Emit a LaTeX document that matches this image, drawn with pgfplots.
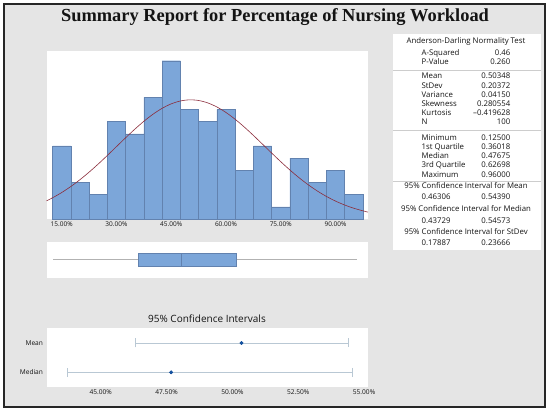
\documentclass[border=0pt]{standalone}
\usepackage{fontspec}
\setmainfont{Open Sans}
\newfontfamily\titlefont{Liberation Serif}
\usepackage{pgfplots}
\usepgfplotslibrary{statistics}
\pgfplotsset{compat=1.18}
\definecolor{framebg}{RGB}{229,229,229}
\definecolor{barfill}{RGB}{124,166,217}
\definecolor{baredge}{RGB}{98,130,175}
\definecolor{fitcurve}{RGB}{140,45,60}
\definecolor{ciline}{RGB}{185,200,212}
\definecolor{cipt}{RGB}{22,82,160}
\definecolor{sepline}{RGB}{205,205,205}
\definecolor{txt}{RGB}{20,20,20}

\newcommand{\tabfont}{\fontsize{7.8}{8.5}\selectfont}
\newcommand{\srow}[3]{%
  \node[anchor=base west,font=\tabfont,text=txt,inner sep=0pt] at (421.5,-#1-2.8) {#2};
  \node[anchor=base east,font=\tabfont,text=txt,inner sep=0pt] at (510.5,-#1-2.8) {#3};}
\newcommand{\crow}[2]{%
  \node[anchor=base,font=\tabfont,text=txt,inner sep=0pt] at (466,-#1-2.8) {#2};}

\begin{document}
\begin{tikzpicture}[x=1pt,y=1pt]
\fill[white] (0,0) rectangle (550,-413);
\fill[framebg] (4,-4) rectangle (545,-407);
\draw[black!85,line width=1.5pt] (4,-4) rectangle (545,-407);
\node[font=\titlefont\bfseries\fontsize{18.4}{21}\selectfont,text=txt] at (275,-17.5) {Summary Report for Percentage of Nursing Workload};

% ---------- histogram ----------
\begin{axis}[at={(46.5pt,-219pt)},anchor=south west,
  scale only axis,width=321.5pt,height=168pt,
  xmin=10.84,xmax=98.9,ymin=0,ymax=13.8,
  axis background/.style={fill=white},
  axis line style={draw=none},
  major tick length=0pt,
  ytick=\empty,
  xtick={15,30,45,60,75,90},
  xticklabels={15.00\%,30.00\%,45.00\%,60.00\%,75.00\%,90.00\%},
  xticklabel style={font=\fontsize{6.5}{7}\selectfont,text=txt,yshift=1pt},
  clip=false]
\addplot[ybar interval,fill=barfill,draw=baredge,line width=0.4pt] coordinates {
(12.5,6) (17.5,3) (22.5,2) (27.5,8) (32.5,7) (37.5,10) (42.5,13) (47.5,9) (52.5,8)
(57.5,9) (62.5,4) (67.5,6) (72.5,1) (77.5,5) (82.5,3) (87.5,4) (92.5,2) (97.5,2)};
\addplot[fitcurve,line width=0.6pt,smooth] coordinates {
(10.84,1.489) (12.5,1.743) (15,2.173) (17.5,2.669) (20,3.228) (22.5,3.847) (25,4.514)
(27.5,5.220) (30,5.946) (32.5,6.670) (35,7.371) (37.5,8.025) (40,8.605)
(42.5,9.090) (45,9.458) (47.5,9.695) (50,9.789) (52.5,9.736) (55,9.538)
(57.5,9.205) (60,8.751) (62.5,8.194) (65,7.559) (67.5,6.869) (70,6.148)
(72.5,5.421) (75,4.708) (77.5,4.028) (80,3.394) (82.5,2.818) (85,2.304)
(87.5,1.856) (90,1.473) (92.5,1.151) (95,0.886) (97.5,0.672) (98.9,0.565)};
\end{axis}

% ---------- boxplot ----------
\begin{axis}[at={(46.5pt,-277.7pt)},anchor=south west,
  scale only axis,width=321.5pt,height=36pt,
  xmin=10.84,xmax=98.9,ymin=-1.5,ymax=1.5,
  axis background/.style={fill=white},
  axis line style={draw=none},
  major tick length=0pt,
  xtick=\empty,ytick=\empty]
\addplot[boxplot prepared={lower whisker=12.5,lower quartile=36.018,median=47.675,
  upper quartile=62.698,upper whisker=96,draw position=0,box extend=1.06,whisker extend=0,
  every box/.style={fill=barfill,draw=baredge,line width=0.4pt},
  every whisker/.style={draw=black!30,line width=0.8pt},
  every median/.style={draw=baredge,line width=0.8pt}},
  mark=none] coordinates {};
\end{axis}

% ---------- confidence intervals ----------
\node[font=\fontsize{10}{11}\selectfont,text=txt] at (207,-319) {95\% Confidence Intervals};
\begin{axis}[at={(46.5pt,-387pt)},anchor=south west,
  scale only axis,width=321.5pt,height=58.7pt,
  xmin=42.94,xmax=55.15,ymin=0,ymax=3,
  axis background/.style={fill=white},
  axis line style={draw=none},
  major tick length=0pt,
  xtick={45,47.5,50,52.5,55},
  xticklabels={45.00\%,47.50\%,50.00\%,52.50\%,55.00\%},
  ytick={0.75,2.25},yticklabels={Median,Mean},
  tick label style={font=\fontsize{6.6}{7}\selectfont,text=txt},
  xticklabel style={yshift=1pt},
  clip=false]
\addplot[only marks,mark=*,mark size=1.6pt,color=cipt,
  error bars/.cd,x dir=both,x explicit,
  error bar style={ciline,line width=0.9pt},
  error mark options={rotate=90,ciline,mark size=4.5pt,line width=0.9pt}]
  coordinates {(50.348,2.25) += (4.042,0) -= (4.042,0)
               (47.675,0.75) += (6.898,0) -= (3.946,0)};
\addplot[only marks,mark=*,mark size=1.6pt,color=cipt] coordinates {(50.348,2.25) (47.675,0.75)};
\end{axis}

% ---------- statistics table ----------
\fill[white] (393.3,-34) rectangle (540.5,-250);
\draw[sepline,line width=0.6pt] (393.3,-70) -- (540.5,-70);
\draw[sepline,line width=0.6pt] (393.3,-130) -- (540.5,-130);
\draw[sepline,line width=0.6pt] (393.3,-181) -- (540.5,-181);
\crow{41}{Anderson-Darling Normality Test}
\srow{52.3}{A-Squared}{0.46}
\srow{61.3}{P-Value}{0.260}
\srow{76}{Mean}{0.50348}
\srow{85.2}{StDev}{0.20372}
\srow{94.4}{Variance}{0.04150}
\srow{103.6}{Skewness}{0.280554}
\srow{112.8}{Kurtosis}{\textendash0.419628}
\srow{122}{N}{100}
\srow{137.5}{Minimum}{0.12500}
\srow{146.7}{1st Quartile}{0.36018}
\srow{155.9}{Median}{0.47675}
\srow{165.1}{3rd Quartile}{0.62698}
\srow{174.3}{Maximum}{0.96000}
\crow{186}{95\% Confidence Interval for Mean}
\srow{197}{0.46306}{0.54390}
\crow{209}{95\% Confidence Interval for Median}
\srow{220.3}{0.43729}{0.54573}
\crow{232}{95\% Confidence Interval for StDev}
\srow{243}{0.17887}{0.23666}
\end{tikzpicture}
\end{document}
